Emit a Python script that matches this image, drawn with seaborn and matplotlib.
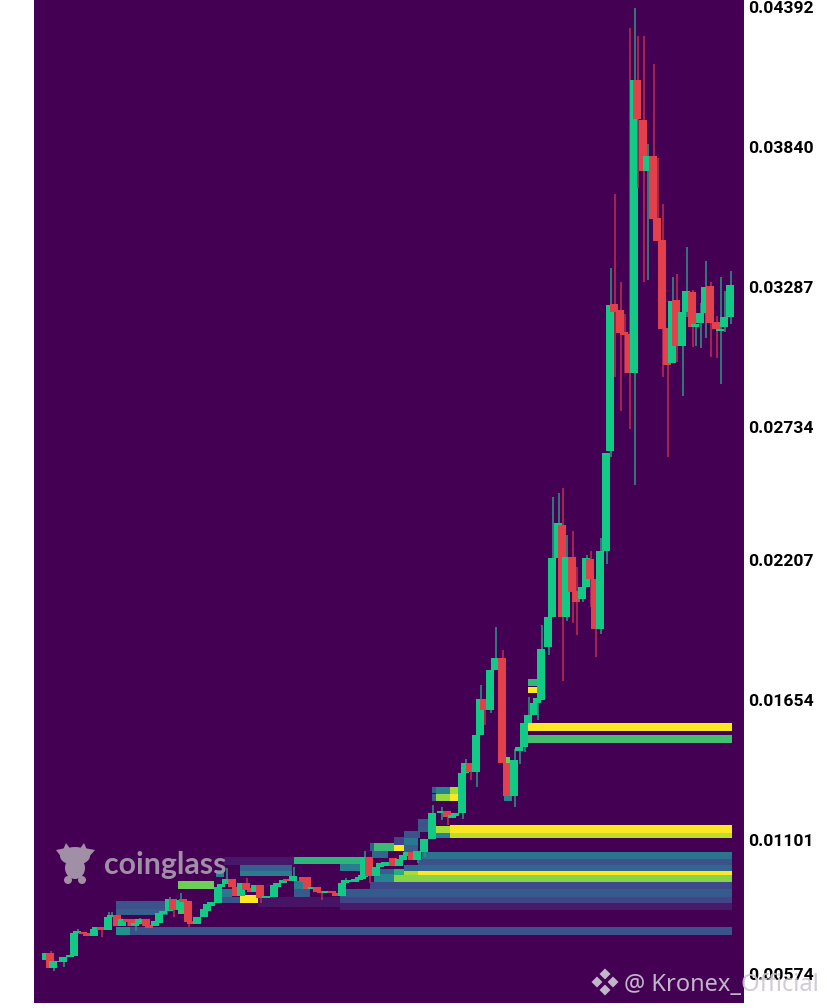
import numpy as np
import matplotlib
matplotlib.use("Agg")
import matplotlib.pyplot as plt
from matplotlib.patches import Ellipse, Polygon
import seaborn as sns

# prices are in units of 1e-5
candle_time = [0,4,7,12,17,24,28,31,37,41,48,50,55,62,65,71,76,81,86,89,93,100,103,109,113,117,123,127,134,137,142,145,151,158,161,165,172,175,180,186,190,195,200,205,209,214,220,228,231,237,241,247,257,261,266,271,275,280,286,290,296,299,305,309,313,316,318,323,330,334,339,347,353,357,361,366,371,378,386,395,401,406,409,416,419,424,430,434,438,444,449,456,461,468,473,478,482,488,491,495,502,506,512,516,520,526,530,536,540,544,549,554,560,564,568,574,578,583,588,591,597,601,607,611,616,621,626,630,636,640,646,649,654,659,664,670,674,678,684]
candle_open = [628,656,598,620,621,640,645,735,740,736,724,746,758,748,798,806,762,789,789,763,770,789,766,762,775,808,823,868,825,868,862,781,770,797,823,841,852,915,928,949,917,881,931,911,898,924,872,878,917,931,949,940,957,957,907,916,902,892,902,892,882,933,936,937,944,947,957,1034,961,994,999,1030,1001,1023,1040,1053,1023,1056,1105,1207,1217,1190,1197,1208,1365,1407,1372,1517,1659,1615,1774,1821,1406,1277,1453,1468,1563,1596,1642,1655,1863,1982,2215,2346,1982,2221,2087,2053,2100,2212,2133,1934,2244,2639,3218,3194,3107,3100,2945,4104,3946,3745,3804,3558,3472,3123,2985,3234,3055,3186,3267,3127,3143,3184,3290,3147,3111,3128,3167]
candle_close = [656,598,624,624,640,648,736,743,731,724,750,758,748,798,806,762,790,777,763,774,789,763,756,782,815,823,868,825,865,857,777,770,799,828,849,856,917,928,949,915,881,931,905,898,924,874,881,924,932,944,940,961,937,907,915,898,892,901,892,882,933,944,942,947,955,964,1034,961,994,1010,1015,1001,1027,1043,1053,1023,1058,1105,1207,1217,1192,1201,1210,1368,1407,1372,1517,1659,1615,1774,1821,1406,1277,1418,1469,1564,1596,1643,1663,1856,1984,2215,2355,1982,2221,2083,2043,2103,2215,2132,1934,2244,2632,3215,3189,3103,3097,2945,4104,3949,3745,3804,3555,3468,3120,2978,3232,3055,3186,3272,3127,3139,3185,3288,3143,3120,3122,3169,3295]
candle_high = [656,664,624,624,640,654,736,749,740,736,750,758,758,819,819,812,790,789,789,774,793,789,766,782,815,823,876,868,894,868,862,781,799,828,849,856,917,928,991,949,917,931,951,911,924,924,881,924,932,944,949,994,957,957,915,916,902,901,902,892,933,952,942,947,955,964,1059,1034,994,1010,1015,1030,1027,1043,1053,1053,1058,1105,1240,1233,1217,1201,1210,1368,1421,1407,1517,1714,1659,1774,1943,1852,1406,1461,1469,1564,1667,1643,1663,1951,1984,2458,2474,2492,2307,2324,2182,2103,2228,2244,2133,2295,2632,3360,3654,3305,3180,4309,4387,4278,4278,3850,4167,3796,3614,3123,3327,3338,3186,3446,3275,3139,3224,3390,3306,3172,3327,3272,3351]
candle_low = [628,598,586,620,601,640,645,735,731,724,724,746,720,748,798,762,762,763,763,744,770,763,756,762,775,808,823,799,825,857,760,770,770,797,823,841,852,915,928,915,881,881,905,898,898,854,872,878,917,931,940,940,937,907,907,898,865,892,892,882,882,933,936,937,944,947,957,931,961,994,999,1001,1001,1023,1040,1023,1011,1035,1105,1181,1161,1190,1197,1184,1365,1339,1313,1517,1556,1602,1774,1406,1277,1234,1402,1450,1563,1596,1576,1655,1833,1982,2215,1731,1968,1960,1912,2041,2100,2024,1826,1914,2191,2616,2932,2797,2947,2725,2504,3677,3307,3314,3555,3468,2932,2616,2985,2991,2856,3168,3051,3053,3047,3084,3011,3005,2903,3110,3140]

# liquidation bands: time range, price range, intensity (later bands paint over earlier ones)
band_start = [179,212,294, 70,70, 70,70, 132,132, 194,194, 248,294, 194,176,175, 248,248, 170, 294,294, 324, 328,348, 334,348,358,372, 358,372,376, 390,390,404,404, 358,358,358, 372,372, 348, 328,348,324,326, 386,386,390,390,404,404, 458,458,461, 482,482,482,482]
band_stop = [247,294,686, 686,84, 121,121, 168,138, 246,246, 317,317, 212,194,186, 264,264, 178, 686,686, 686, 348,686, 348,358,372,686, 686,686,686, 404,404,686,686, 374,372,372, 382,382, 358, 348,358,328,342, 390,390,404,404,412,412, 466,466,464, 686,686,492,492]
band_low = [1003,837,825, 727,727, 829,806, 908,810, 980,960, 1007,980, 853,853,877, 908,877, 956, 877,853, 908, 936,936, 968,964,964,964, 981,1003,1027, 1130,1110,1130,1110, 1110,1082,1055, 1153,1134, 1082, 1058,1058,1058,1031, 1288,1256,1284,1256,1284,1256, 1276,1256,1406, 1533,1485,1710,1683]
band_high = [1035,877,853, 758,758, 861,829, 940,829, 1003,980, 1035,1007, 885,877,908, 940,908, 983, 908,877, 936, 968,964, 987,987,981,981, 1003,1027,1056, 1157,1130,1161,1130, 1137,1110,1082, 1185,1153, 1114, 1090,1082,1090,1058, 1311,1284,1311,1284,1311,1284, 1311,1276,1430, 1564,1517,1738,1706]
band_level = [0.06,0.05,0.07, 0.25,0.50, 0.25,0.30, 0.78,0.70, 0.30,0.42, 0.65,0.42, 1.00,0.25,0.40, 0.42,0.28, 0.42, 0.28,0.20, 0.22, 0.45,0.82, 0.30,0.62,0.87,1.00, 0.33,0.25,0.38, 0.87,0.45,1.00,0.90, 0.25,0.40,0.30, 0.25,0.27, 0.20, 0.68,1.00,0.28,0.33, 0.30,0.30,0.45,0.84,0.87,1.00, 0.78,0.45,0.78, 1.00,0.70,0.66,1.00]

tick_labels = ["0.04392","0.03840","0.03287","0.02734","0.02207","0.01654","0.01101","0.00574"]

UNIT = 1e-5
T_MIN, T_MAX = -12, 698
P_TOP, P_BOTTOM = 4419.65, 458.15
N_ROWS, N_COLS = 1003, 355

heat = np.zeros((N_ROWS, N_COLS))
col_mid = T_MIN + (np.arange(N_COLS) + 0.5) * (T_MAX - T_MIN) / N_COLS
row_mid = P_TOP - (np.arange(N_ROWS) + 0.5) * (P_TOP - P_BOTTOM) / N_ROWS
for t0, t1, p0, p1, lv in zip(band_start, band_stop, band_low, band_high, band_level):
    rows = (row_mid >= p0) & (row_mid <= p1)
    cols = (col_mid >= t0) & (col_mid <= t1)
    heat[np.ix_(rows, cols)] = lv

fig = plt.figure(figsize=(8.28, 10.08), dpi=100, facecolor="white")
rect = [34/828, (1008-1003)/1008, 710/828, 1003/1008]
heat_ax = fig.add_axes(rect)
sns.heatmap(heat, ax=heat_ax, cmap="viridis", vmin=0, vmax=1, cbar=False,
            xticklabels=False, yticklabels=False, linewidths=0)
heat_ax.set_xlabel(""); heat_ax.set_ylabel("")

ax = fig.add_axes(rect, facecolor="none")
ax.set_xlim(T_MIN, T_MAX)
ax.set_ylim(P_BOTTOM * UNIT, P_TOP * UNIT)
GREEN, RED = "#12c986", "#e2414b"
WICK_GREEN, WICK_RED = "#2f9184", "#bb2c50"
for i, (t, o, c, h, l) in enumerate(zip(candle_time, candle_open, candle_close, candle_high, candle_low)):
    up = c >= o
    ax.vlines(t + 0.7, l * UNIT, h * UNIT, color=WICK_GREEN if up else WICK_RED, lw=1.15, zorder=2 + i * 0.01)
    ax.bar(t, max(abs(c - o), 1) * UNIT, bottom=min(o, c) * UNIT, width=7.2,
           color=GREEN if up else RED, linewidth=0, zorder=2.005 + i * 0.01)

ax.set_xticks([])
ax.yaxis.tick_right()
ax.set_yticks([float(s) for s in tick_labels])
ax.set_yticklabels(tick_labels, family="Roboto", fontweight="bold", fontsize=12.6, color="black")
ax.tick_params(axis="y", length=0, pad=3.2)
for s in ax.spines.values():
    s.set_visible(False)

# watermarks, in pixel space
over = fig.add_axes([0, 0, 1, 1], facecolor="none")
over.set_xlim(0, 828); over.set_ylim(1008, 0); over.axis("off")
mark = "#a18fa8"
over.add_patch(Ellipse((75, 856), 30, 18, color=mark, lw=0))
over.add_patch(Ellipse((75, 868), 20, 22, color=mark, lw=0))
over.add_patch(Ellipse((68, 880), 8, 8, color=mark, lw=0))
over.add_patch(Ellipse((82, 880), 8, 8, color=mark, lw=0))
over.add_patch(Polygon([(56,850),(66,848),(62,858)], color=mark, lw=0))
over.add_patch(Polygon([(95,850),(84,848),(88,858)], color=mark, lw=0))
over.add_patch(Polygon([(66,843),(71,850),(63,850)], color=mark, lw=0))
over.add_patch(Polygon([(84,843),(79,850),(87,850)], color=mark, lw=0))
over.text(104, 874, "coinglass", family="Lato", fontweight="bold", fontsize=21.8, color=mark, va="baseline", ha="left")

wm = (0.80, 0.78, 0.83, 0.92)
for cx, cy, r in [(605, 974, 5.5), (597, 982, 5.5), (613, 982, 5.5), (605, 990, 5.5)]:
    over.add_patch(Polygon([(cx, cy-r), (cx+r, cy), (cx, cy+r), (cx-r, cy)], color=wm, lw=0))
over.add_patch(Polygon([(605, 979), (608, 982), (605, 985), (602, 982)], color=(0.27, 0.0, 0.33), lw=0))
over.text(624, 991, "@ Kronex_Official", family="Noto Sans", fontsize=17, color=wm, va="baseline", ha="left")

fig.savefig("out.png", dpi=100, facecolor="white")
